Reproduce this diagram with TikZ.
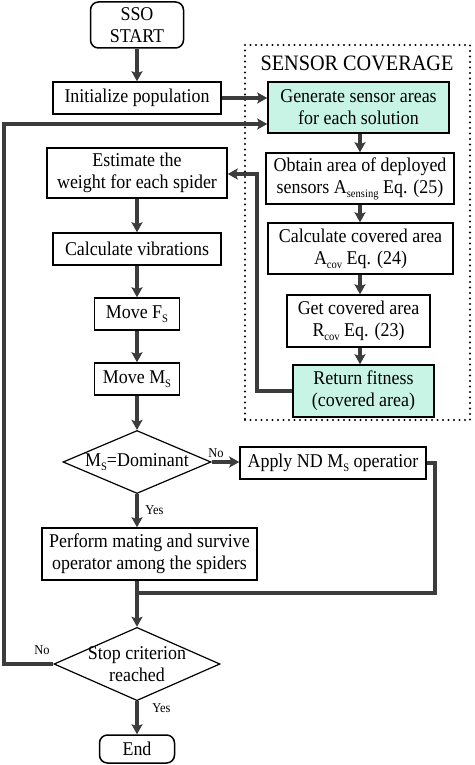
\documentclass[tikz,border=0pt]{standalone}
\usepackage{fontspec}
\setmainfont[FakeStretch=0.92]{Liberation Serif}
\usetikzlibrary{shapes.geometric,arrows.meta}
\newcommand{\lowidx}[1]{\raisebox{-0.45ex}{\fontsize{11.5}{11.5}\selectfont #1}}
\definecolor{conncol}{HTML}{3C3C3C}
\definecolor{mint}{HTML}{C8F4E6}
\begin{document}
\begin{tikzpicture}[x=1pt,y=-1pt,
  box/.style={draw=black, line width=1.5pt, inner sep=0pt, align=center, font=\fontsize{19.5}{22}\selectfont},
  term/.style={box, rounded corners=8pt},
  dec/.style={box, line width=1.2pt, diamond, inner xsep=-25pt, inner ysep=-5pt},
  conn/.style={draw=conncol, line width=3.2pt, line join=miter},
  arr/.style={conn, -{Stealth[length=10pt,width=11pt,inset=2pt]}},
  lab/.style={font=\fontsize{13.5}{13.5}\selectfont, inner sep=0pt}]
\useasboundingbox (0,0) rectangle (474,765);
\fill[white] (0,0) rectangle (474,765);

% sensor coverage frame
\node[draw=black, line width=2.2pt, dash pattern=on 0pt off 5.5pt, line cap=round,
      minimum width=225pt, minimum height=375pt, inner sep=0pt] (covframe) at (357.5,232.5) {};
\node[font=\fontsize{22}{22}\selectfont, inner sep=0pt] (covtitle) at (357,63) {SENSOR COVERAGE};

% main column
\node[term, minimum width=93pt, minimum height=46pt] (start) at (137,25) {SSO\\START};
\node[box, minimum width=168pt, minimum height=32pt] (init) at (137,98) {Initialize population};
\node[box, minimum width=180pt, minimum height=50pt] (est) at (137,173) {Estimate the\\weight for each spider};
\node[box, minimum width=168pt, minimum height=32pt] (calc) at (137,249) {Calculate vibrations};
\node[box, minimum width=85pt, minimum height=32pt] (movef) at (137,314) {Move F\lowidx{S}};
\node[box, minimum width=85pt, minimum height=32pt] (movem) at (137,379) {Move M\lowidx{S}};
\node[dec, minimum width=148pt, minimum height=63pt] (dom) at (137,462) {M\lowidx{S}=Dominant};
\node[box, minimum width=186pt, minimum height=32pt] (apply) at (333,463) {Apply ND M\lowidx{S} operatior};
\node[box, minimum width=215pt, minimum height=52pt] (perform) at (149.5,554) {Perform mating and survive\\operator among the spiders};
\node[dec, minimum width=166pt, minimum height=72pt] (stop) at (137,664) {Stop criterion\\reached};
\node[term, minimum width=75pt, minimum height=28pt] (end) at (137,749) {End};

% sensor column
\node[box, fill=mint, minimum width=181pt, minimum height=51pt] (gen) at (358.5,107.5) {Generate sensor areas\\for each solution};
\node[box, minimum width=188pt, minimum height=51pt] (obtain) at (360,178.5) {Obtain area of deployed\\sensors A\lowidx{sensing} Eq. (25)};
\node[box, minimum width=185pt, minimum height=51pt] (calccov) at (360.5,248.5) {Calculate covered area\\A\lowidx{cov} Eq. (24)};
\node[box, minimum width=143pt, minimum height=52pt] (getcov) at (358.5,321) {Get covered area\\R\lowidx{cov} Eq. (23)};
\node[box, fill=mint, minimum width=141pt, minimum height=52pt] (ret) at (363.5,391) {Return fitness\\(covered area)};

\coordinate (col) at (360,0);
\coordinate (lx) at (4,124);
\coordinate (rx) at (257,174);
\coordinate (ax) at (435,593);

% connectors main column
\draw[arr] (start) -- (init);
\draw[arr] (init.east) -- (init.east -| gen.west);
\draw[arr] (est) -- (calc);
\draw[arr] (calc) -- (movef);
\draw[arr] (movef) -- (movem);
\draw[arr] (movem) -- (dom);
\draw[arr] (dom.east) -- (dom.east -| apply.west);
\draw[arr] (dom.south) -- (dom.south |- perform.north);
\draw[conn] (apply.east) -| (ax) -- (ax -| dom.south);
\draw[arr] (perform.south -| dom.south) -- (stop.north);
\draw[arr] (stop.south) -- (end.north);
\draw[arr] (stop.west) -| (lx) -- (lx -| gen.west);
\node[lab] (nolab1) at (216,453) {No};
\node[lab] (yeslab1) at (154.5,510) {Yes};
\node[lab] (yeslab2) at (161.5,708) {Yes};
\node[lab] (nolab2) at (42,650) {No};

% connectors sensor column
\draw[arr] (gen.south -| col) -- (obtain.north -| col);
\draw[arr] (obtain.south -| col) -- (calccov.north -| col);
\draw[arr] (calccov.south -| col) -- (getcov.north -| col);
\draw[arr] (getcov.south -| col) -- (ret.north -| col);
\draw[arr] (ret.west) -| (rx) -- (rx -| est.east);
\end{tikzpicture}
\end{document}
